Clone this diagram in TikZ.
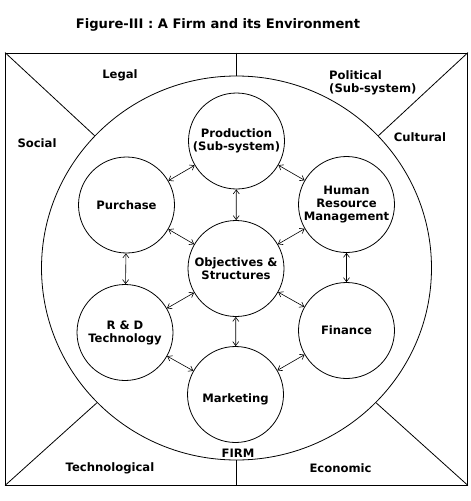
\documentclass[tikz,border=0pt]{standalone}
\usepackage{fontspec}
\setmainfont{DejaVu Sans}
\usetikzlibrary{shapes.geometric,arrows.meta}
\begin{document}
\begin{tikzpicture}[x=1pt,y=-1pt,
  lbl/.style={font=\fontsize{11.6}{13}\selectfont\bfseries, align=center, inner sep=0pt},
  unit/.style={draw, circle, line width=0.8pt, minimum size=96pt, inner sep=0pt, lbl},
  link/.style={line width=0.6pt, {Straight Barb[length=4pt,width=6pt]}-{Straight Barb[length=4pt,width=6pt]}},
  frame/.style={draw, line width=0.8pt}]
\useasboundingbox (0,0) rectangle (471,501);
\node[frame, rectangle, minimum width=462pt, minimum height=432pt, inner sep=0pt] (env) at (236.5,269) {};
\node[frame, ellipse, minimum width=390pt, minimum height=384pt, inner sep=0pt] (firm) at (236.5,268) {};
\draw[line width=0.8pt] (env.north) -- (firm.north);
\draw[line width=0.8pt] (firm.south) -- (env.south);
\draw[line width=0.8pt] (env.north west) -- (firm.137);
\draw[line width=0.8pt] (env.north east) -- (firm.43);
\draw[line width=0.8pt] (env.south west) -- (firm.224);
\draw[line width=0.8pt] (env.south east) -- (firm.316);

\node[font=\fontsize{13.1}{15}\selectfont\bfseries, inner sep=0pt] (title) at (218,25) {Figure-III : A Firm and its Environment};

\node[unit] (prod) at (236.5,141) {Production\\(Sub-system)};
\node[unit] (purch) at (126.5,205) {Purchase};
\node[unit] (hrm) at (346.5,204.5) {Human\\Resource\\Management};
\node[unit] (obj) at (236,268.5) {Objectives \&\\Structures};
\node[unit] (rnd) at (125,332.5) {R \& D\\Technology};
\node[unit] (fin) at (346.5,330.5) {Finance};
\node[unit, label={[lbl, yshift=-4.5pt]center:Marketing}] (mkt) at (235.5,394.5) {};

\draw[link] (prod) -- (purch);
\draw[link] (prod) -- (hrm);
\draw[link] (purch) -- (rnd);
\draw[link] (hrm) -- (fin);
\draw[link] (rnd) -- (mkt);
\draw[link] (fin) -- (mkt);
\draw[link] (obj) -- (prod);
\draw[link] (obj) -- (purch);
\draw[link] (obj) -- (hrm);
\draw[link] (obj) -- (rnd);
\draw[link] (obj) -- (fin);
\draw[link] (obj) -- (mkt);

\node[lbl] (legal) at (120,75) {Legal};
\node[lbl, align=left, anchor=west] (pol) at (329,82.5) {Political\\(Sub-system)};
\node[lbl] (social) at (37,143) {Social};
\node[lbl] (cult) at (420,137) {Cultural};
\node[lbl] (tech) at (110,468) {Technological};
\node[lbl] (econ) at (340.5,468) {Economic};
\node[lbl] (firmlbl) at (238,453) {FIRM};
\end{tikzpicture}
\end{document}
